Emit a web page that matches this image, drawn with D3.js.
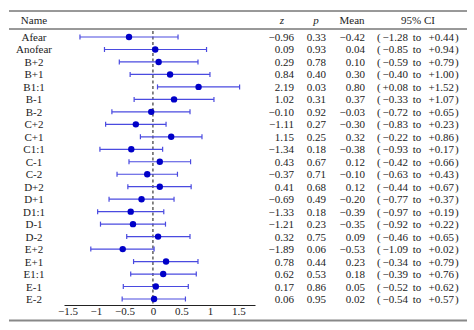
<!DOCTYPE html>
<html>
<head>
<meta charset="utf-8">
<script src="https://cdn.jsdelivr.net/npm/d3@7"></script>
<style>
  body { margin: 0; background: #fff; }
  text { font-family: "Liberation Serif", "DejaVu Serif", serif; font-size: 11px; fill: #222; }
</style>
</head>
<body>
<script>
"use strict";

// data
var names = ["Afear", "Anofear", "B+2", "B+1", "B1:1", "B-1", "B-2", "C+2", "C+1", "C1:1", "C-1",
             "C-2", "D+2", "D+1", "D1:1", "D-1", "D-2", "E+2", "E+1", "E1:1", "E-1", "E-2"];
var zVals = [-0.96, 0.09, 0.29, 0.84, 2.19, 1.02, -0.10, -1.11, 1.15, -1.34, 0.43,
             -0.37, 0.41, -0.69, -1.33, -1.21, 0.32, -1.89, 0.78, 0.62, 0.17, 0.06];
var pVals = [0.33, 0.93, 0.78, 0.40, 0.03, 0.31, 0.92, 0.27, 0.25, 0.18, 0.67,
             0.71, 0.68, 0.49, 0.18, 0.23, 0.75, 0.06, 0.44, 0.53, 0.86, 0.95];
var means = [-0.42, 0.04, 0.10, 0.30, 0.80, 0.37, -0.03, -0.30, 0.32, -0.38, 0.12,
             -0.10, 0.12, -0.20, -0.39, -0.35, 0.09, -0.53, 0.23, 0.18, 0.05, 0.02];
var lows  = [-1.28, -0.85, -0.59, -0.40, 0.08, -0.33, -0.72, -0.83, -0.22, -0.93, -0.42,
             -0.63, -0.44, -0.77, -0.97, -0.92, -0.46, -1.09, -0.34, -0.39, -0.52, -0.54];
var highs = [0.44, 0.94, 0.79, 1.00, 1.52, 1.07, 0.65, 0.23, 0.86, 0.17, 0.66,
             0.43, 0.67, 0.37, 0.19, 0.22, 0.65, 0.02, 0.79, 0.76, 0.62, 0.57];
var xTicks = [-1.5, -1, -0.5, 0, 0.5, 1, 1.5];

var width = 474, height = 330;

var rows = names.map(function (n, i) {
    return {name: n, z: zVals[i], p: pVals[i], mean: means[i], lo: lows[i], hi: highs[i]};
});

var svg = d3.select("body").append("svg")
    .attr("width", width)
    .attr("height", height);

// scales
var x = d3.scaleLinear().domain([-1.56, 1.79]).range([64, 255]);
var y = d3.scalePoint().domain(names).range([37, 299]);

function fmt(v) {
    return d3.format(".2f")(v).replace("-", "\u2212");
}
function fmtSigned(v) {
    return (v >= 0 ? "+" : "\u2212") + d3.format(".2f")(Math.abs(v));
}

// rules
svg.append("line").attr("x1", 9).attr("x2", 467).attr("y1", 11).attr("y2", 11)
    .attr("stroke", "#333").attr("stroke-width", 1);
svg.append("line").attr("x1", 9).attr("x2", 467).attr("y1", 29).attr("y2", 29)
    .attr("stroke", "#333").attr("stroke-width", 1);
svg.append("line").attr("x1", 9).attr("x2", 467).attr("y1", 320.5).attr("y2", 320.5)
    .attr("stroke", "#888").attr("stroke-width", 2.2);

// header
var hy = 20;
var header = svg.append("g").attr("dominant-baseline", "central");
header.append("text").attr("x", 34).attr("y", hy).attr("text-anchor", "middle").text("Name");
header.append("text").attr("x", 282).attr("y", hy).attr("text-anchor", "middle")
    .style("font-style", "italic").text("z");
header.append("text").attr("x", 316).attr("y", hy).attr("text-anchor", "middle")
    .style("font-style", "italic").text("p");
header.append("text").attr("x", 352).attr("y", hy).attr("text-anchor", "middle").text("Mean");
header.append("text").attr("x", 418).attr("y", hy).attr("text-anchor", "middle").text("95% CI");

// zero line
svg.append("line")
    .attr("x1", x(0)).attr("x2", x(0))
    .attr("y1", 31).attr("y2", 305)
    .attr("stroke", "#111").attr("stroke-width", 1)
    .attr("stroke-dasharray", "3,2.5");

// axis
var axis = svg.append("g")
    .attr("transform", "translate(0,305)")
    .call(d3.axisBottom(x).tickValues(xTicks).tickSize(0).tickPadding(2)
        .tickFormat(function (d) { return String(d).replace("-", "\u2212"); }));
axis.select(".domain").attr("stroke", "#222").attr("stroke-width", 1);
axis.selectAll("text").attr("fill", "#222")
    .style("font-family", "'Liberation Serif', serif").style("font-size", "11px");

// error bars
var bars = svg.append("g").selectAll("g.bar")
    .data(rows)
    .enter().append("g").attr("class", "bar");
bars.append("line")
    .attr("x1", d => x(d.lo)).attr("x2", d => x(d.hi))
    .attr("y1", d => y(d.name)).attr("y2", d => y(d.name))
    .attr("stroke", "#4a4ae0").attr("stroke-width", 1.2);
bars.append("line")
    .attr("x1", d => x(d.lo)).attr("x2", d => x(d.lo))
    .attr("y1", d => y(d.name) - 2.5).attr("y2", d => y(d.name) + 2.5)
    .attr("stroke", "#4a4ae0").attr("stroke-width", 1.2);
bars.append("line")
    .attr("x1", d => x(d.hi)).attr("x2", d => x(d.hi))
    .attr("y1", d => y(d.name) - 2.5).attr("y2", d => y(d.name) + 2.5)
    .attr("stroke", "#4a4ae0").attr("stroke-width", 1.2);
bars.append("circle")
    .attr("cx", d => x(d.mean)).attr("cy", d => y(d.name))
    .attr("r", 3.2).attr("fill", "#0000c8");

// table text
var tr = svg.append("g").attr("dominant-baseline", "central").selectAll("g.row")
    .data(rows)
    .enter().append("g").attr("class", "row")
    .attr("transform", d => "translate(0," + y(d.name) + ")");
tr.append("text").attr("x", 34).attr("text-anchor", "middle").text(d => d.name);
tr.append("text").attr("x", 294).attr("text-anchor", "end").text(d => fmt(d.z));
tr.append("text").attr("x", 326).attr("text-anchor", "end").text(d => fmt(d.p));
tr.append("text").attr("x", 365).attr("text-anchor", "end").text(d => fmt(d.mean));
tr.append("text").attr("x", 377).text("(");
tr.append("text").attr("x", 408).attr("text-anchor", "end").text(d => fmtSigned(d.lo));
tr.append("text").attr("x", 417).attr("text-anchor", "middle").text("to");
tr.append("text").attr("x", 454).attr("text-anchor", "end").text(d => fmtSigned(d.hi));
tr.append("text").attr("x", 455).text(")");
</script>
</body>
</html>
